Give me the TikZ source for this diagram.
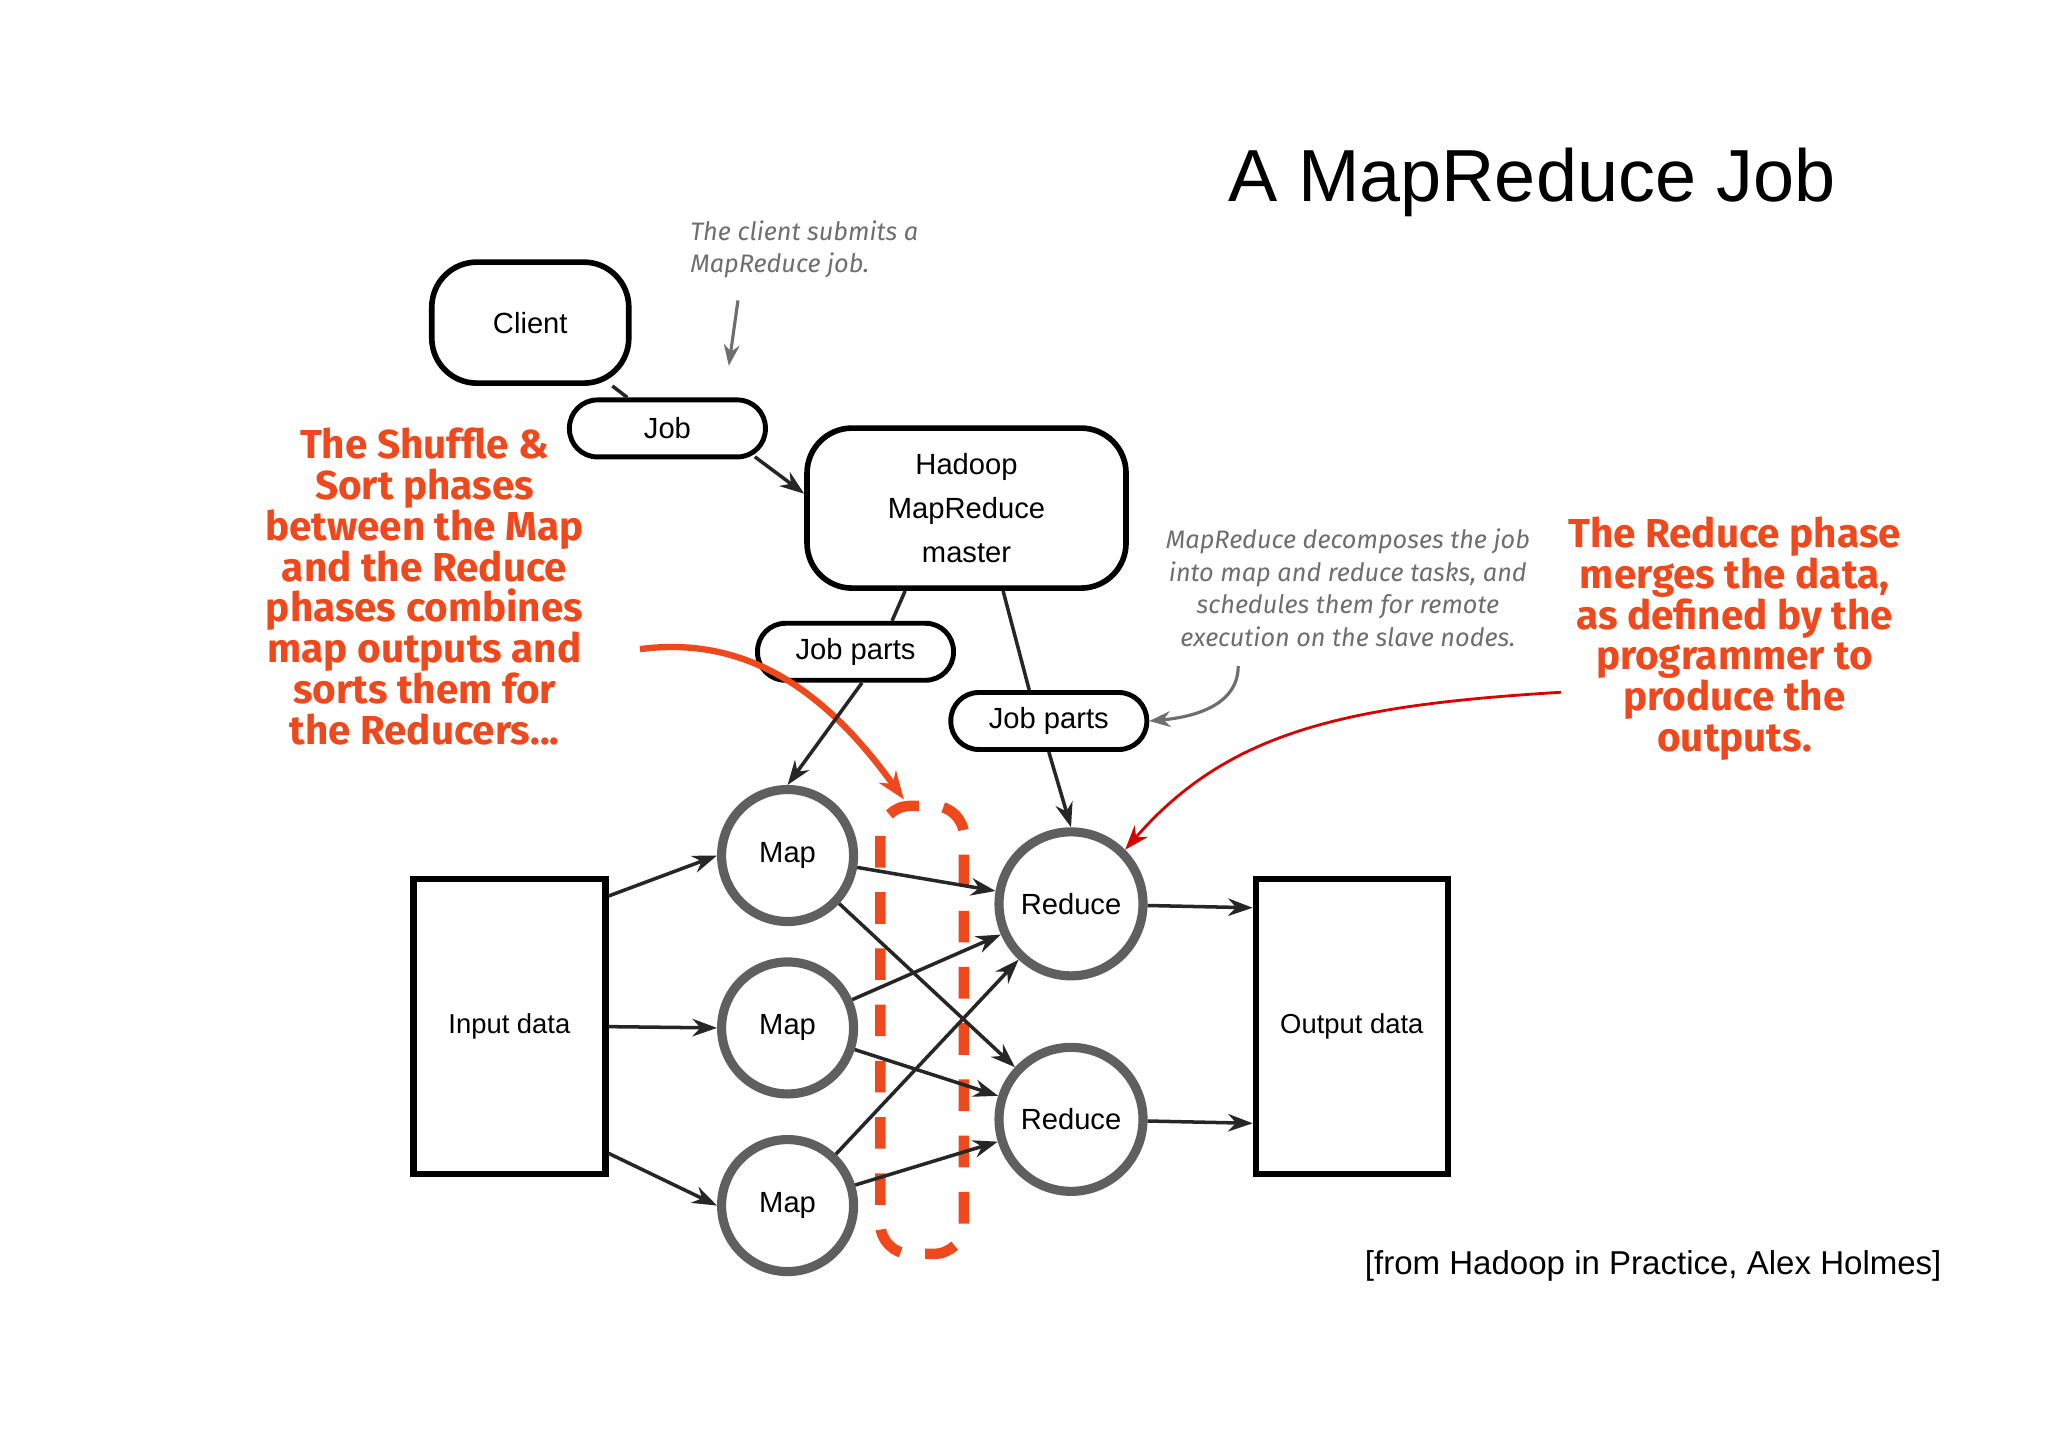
\documentclass[tikz,border=0pt]{standalone}
\usepackage{fontspec}
\setmainfont{Liberation Sans}
\newfontfamily\hand{Fira Sans}
\usetikzlibrary{arrows.meta,calc}
\definecolor{orng}{RGB}{238,72,28}
\definecolor{circ}{RGB}{95,95,95}
\definecolor{note}{RGB}{110,110,110}
\begin{document}
\begin{tikzpicture}[x=0.01306cm,y=-0.01306cm,
  box/.style={draw=black,line width=1.6pt,rounded corners=0.45cm,minimum width=#1,inner sep=0pt,font=\fontsize{8.3}{10}\selectfont},
  pill/.style={draw=black,line width=1.4pt,rounded corners=0.28cm,minimum width=1.96cm,minimum height=0.57cm,inner sep=0pt,font=\fontsize{8.3}{10}\selectfont},
  circ/.style={draw=circ,line width=2.6pt,circle,minimum size=#1,inner sep=0pt,font=\fontsize{8.3}{10}\selectfont},
  sq/.style={draw=black,line width=1.8pt,minimum width=1.92cm,minimum height=2.95cm,inner sep=0pt,font=\fontsize{7.8}{10}\selectfont},
  ar/.style={-{Stealth[length=7pt,width=5pt]},line width=1pt,black!85},
  ln/.style={line width=1pt,black!85},
  notet/.style={note,font=\hand\itshape\fontsize{7.2}{9.3}\selectfont,align=center},
  ortext/.style={orng,font=\hand\bfseries\fontsize{11.5}{11.6}\selectfont,align=center}]
\useasboundingbox (0,0) rectangle (1568,1108);
\node[font=\fontsize{21}{26}\selectfont] (title) at (1173,140) {A MapReduce Job};
\node[box=1.97cm,minimum height=1.21cm] (client) at (406,247) {Client};
\node[pill] (job) at (511,328) {Job};
\node[box=3.19cm,minimum height=1.6cm,align=center,font=\fontsize{8.3}{12.6}\selectfont] (master) at (740,389) {Hadoop\\MapReduce\\master};
\node[pill] (jp1) at (655,499) {Job parts};
\node[pill] (jp2) at (803,552) {Job parts};
\node[circ=1.32cm] (m1) at (603,655) {Map};
\node[circ=1.32cm] (m2) at (603,787) {Map};
\node[circ=1.32cm] (m3) at (603,923) {Map};
\node[circ=1.44cm] (r1) at (820,692) {Reduce};
\node[circ=1.44cm] (r2) at (820,857) {Reduce};
\node[sq] (in) at (390,786) {Input data};
\node[sq] (out) at (1035,786) {Output data};
\draw[orng,line width=3pt,dash pattern=on 9pt off 7pt,rounded corners=0.3cm] (674,617) rectangle (738,960);
\coordinate (c1) at (565,230); \coordinate (c2) at (558,280);
\node[notet,align=left,anchor=west] (n1) at (519,191) {The client submits a\\MapReduce job.};
\draw[-{Stealth[length=6pt]},note,line width=0.9pt] (c1) -- (c2);
\node[notet] (n2) at (1032,450) {MapReduce decomposes the job\\into map and reduce tasks, and\\schedules them for remote\\execution on the slave nodes.};
\coordinate (d1) at (948,510);
\draw[-{Stealth[length=6pt]},note,line width=0.9pt] (d1) to[out=-90,in=5] (jp2.east);
\node[ortext] (lt) at (325,449) {The Shuffle \&\\Sort phases\\between the Map\\and the Reduce\\phases combines\\map outputs and\\sorts them for\\the Reducers...};
\node[ortext] (rt) at (1328,489) {The Reduce phase\\merges the data,\\as defined by the\\programmer to\\produce the\\outputs.};
\coordinate (o1) at (490,497); \coordinate (o2) at (692,612);
\draw[-{Stealth[length=8pt,width=6pt]},orng,line width=1.8pt] (o1) .. controls (580,485) and (640,540) .. (o2);
\coordinate (p1) at (1195,530);
\draw[-{Stealth[length=7pt,width=5pt]},red!85!black,line width=0.8pt] (p1) .. controls (1030,540) and (940,560) .. (r1.north east);
\node[font=\fontsize{9.4}{12}\selectfont,anchor=east,inner sep=0pt] (cite) at (1487,969) {[from Hadoop in Practice, Alex Holmes]};
\draw[ln] (client) -- (job);
\draw[ar] (job.south east) ++(-10,-2) coordinate (jx) (jx) -- (master.west |- 0,378);
\draw[ln] ($(master.south)+(-47,0)$) -- ($(jp1.north)+(28,0)$);
\draw[ar] ($(jp1.south)+(5,0)$) -- (m1.north);
\draw[ln] ($(master.south)+(28,0)$) -- ($(jp2.north)+(-15,0)$);
\draw[ar] (jp2.south) -- (r1.north);
\draw[ar] ($(in.east)+(0,-100)$) -- (m1.west);
\draw[ar] (in.east) -- (m2.west);
\draw[ar] ($(in.east)+(0,97)$) -- (m3.west);
\draw[ar] (m1) -- (r1);
\draw[ar] (m1) -- (r2);
\draw[ar] (m2) -- (r1);
\draw[ar] (m2) -- (r2);
\draw[ar] (m3) -- (r1);
\draw[ar] (m3) -- (r2);
\draw[ar] (r1) -- (out.west |- 0,695);
\draw[ar] (r2) -- (out.west |- 0,860);
\end{tikzpicture}
\end{document}
